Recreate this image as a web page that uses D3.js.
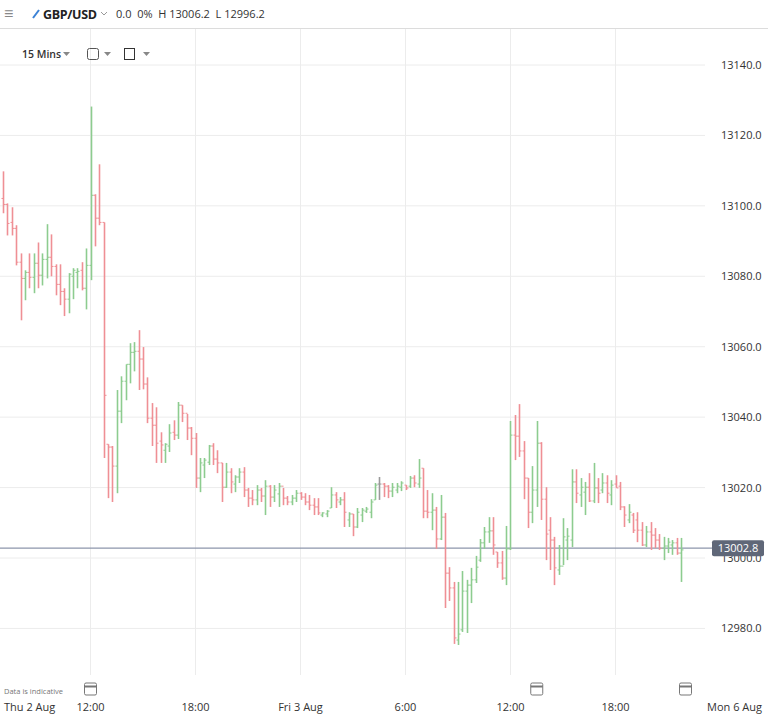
<!DOCTYPE html>
<html><head><meta charset="utf-8">
<script src="https://cdn.jsdelivr.net/npm/d3@7"></script>
<style>body{margin:0;background:#fff;font-family:"Open Sans","Noto Sans",sans-serif}</style>
</head><body><svg id="c" width="768" height="715"></svg>
<script>
const opens=[13102.1,13100.4,13095.3,13093.6,13084.0,13079.4,13081.1,13079.7,13083.7,13080.3,13084.8,13085.4,13082.8,13077.7,13075.7,13073.5,13080.0,13081.1,13081.7,13076.6,
13083.1,13103.0,13096.5,13095.3,13032.3,13031.5,13026.1,13041.7,13050.2,13055.0,13058.4,13058.7,13056.5,13049.4,13039.7,13037.7,13033.2,13030.6,13031.8,13035.7,
13034.9,13043.4,13041.1,13036.9,13034.0,13022.7,13026.4,13027.2,13031.8,13028.1,13027.0,13020.1,13024.4,13021.0,13023.0,13024.4,13019.3,13017.0,13016.5,13019.3,
13017.6,13020.4,13017.3,13018.2,13020.4,13017.0,13015.9,13017.0,13018.4,13017.3,13015.9,13015.0,13014.5,13012.2,13012.5,13014.2,13017.9,13015.9,13016.5,13010.8,
13012.5,13008.8,13012.2,13013.3,13013.0,13016.5,13021.0,13021.0,13020.4,13019.0,13019.3,13020.1,13020.7,13020.4,13022.7,13021.0,13025.5,13013.3,13013.0,13013.6,
13005.4,13011.6,12995.7,12991.5,12976.7,12979.6,12990.6,12992.3,12993.8,12999.4,13004.3,13007.4,13007.7,13001.7,12998.6,12994.3,13002.6,13034.9,13034.6,13030.4,
13022.7,13013.0,13019.3,13032.6,13016.7,13007.9,13005.1,12996.6,12997.7,13005.1,13005.1,13021.6,13017.9,13018.7,13020.1,13016.2,13019.9,13019.3,13021.3,13017.9,
13021.0,13020.4,13014.5,13010.8,13012.2,13010.8,13007.9,13003.7,13007.4,13006.5,13005.1,13002.8,13003.4,13003.7,13004.3,13001.4];
const highs=[13109.8,13100.7,13099.6,13094.5,13086.5,13081.7,13086.5,13086.5,13089.6,13086.5,13094.8,13091.9,13083.4,13083.4,13076.6,13080.9,13082.3,13082.3,13084.0,13087.9,
13128.2,13103.3,13111.8,13095.3,13032.3,13031.8,13047.7,13051.6,13055.0,13061.0,13061.3,13064.7,13059.9,13051.3,13044.0,13042.8,13035.7,13032.6,13038.0,13039.1,
13044.3,13043.4,13040.9,13037.2,13035.5,13028.4,13028.4,13032.1,13032.6,13030.6,13027.0,13027.0,13025.5,13023.5,13025.5,13025.8,13019.9,13019.3,13020.7,13019.9,
13022.1,13020.7,13020.7,13021.3,13019.9,13017.6,13017.9,13019.3,13018.7,13018.4,13017.9,13017.0,13017.0,13013.0,13013.6,13020.1,13018.7,13017.3,13018.7,13013.0,
13012.5,13014.2,13014.2,13014.5,13016.7,13021.3,13023.0,13021.3,13020.7,13021.3,13021.3,13021.8,13020.7,13023.3,13023.5,13028.1,13025.5,13019.3,13018.4,13014.5,
13017.9,13012.8,12997.4,12993.2,12993.2,12996.3,12993.8,12997.2,13000.6,13005.4,13008.8,13011.6,13011.6,13001.7,13002.0,13009.1,13038.9,13040.6,13043.7,13033.2,
13022.7,13026.1,13038.9,13032.9,13020.1,13011.6,13006.0,13003.7,13011.3,13008.5,13025.2,13025.2,13022.7,13021.6,13024.1,13027.0,13022.7,13024.1,13023.5,13022.1,
13023.5,13021.6,13014.7,13015.3,13012.8,13013.0,13010.2,13009.1,13010.2,13008.5,13006.8,13006.0,13005.7,13005.1,13005.7,13005.7];
const lows=[13097.9,13091.6,13091.6,13083.1,13067.5,13073.2,13076.6,13075.2,13076.6,13077.4,13079.4,13080.0,13074.6,13071.8,13068.7,13069.5,13073.5,13076.6,13076.0,13070.6,
13078.9,13088.5,13094.5,13028.4,13017.0,13015.9,13018.4,13038.3,13044.8,13049.6,13053.0,13047.7,13047.9,13038.3,13031.8,13027.0,13027.0,13027.0,13030.1,13033.5,
13033.8,13038.6,13033.5,13029.2,13019.9,13018.7,13022.7,13026.4,13026.4,13024.1,13015.9,13019.9,13018.4,13018.7,13021.3,13017.3,13014.5,13015.0,13015.0,13015.9,
13012.2,13014.5,13015.9,13014.5,13015.0,13015.0,13015.0,13015.9,13016.5,13015.0,13013.6,13012.2,13012.2,13011.6,13011.6,13014.2,13014.2,13015.0,13008.8,13008.8,
13006.2,13008.5,13010.2,13012.8,13011.3,13016.5,13016.5,13017.3,13017.0,13017.3,13018.4,13019.0,13019.3,13019.9,13020.1,13019.9,13011.3,13011.3,13007.9,13002.6,
13005.1,12985.8,12987.8,12975.6,12975.3,12979.0,12978.7,12987.2,12992.9,12998.9,13002.6,13004.3,13000.9,12997.2,12993.8,12992.3,13002.3,13027.8,13028.7,13016.7,
13008.5,13009.9,13014.5,13010.8,12999.4,12996.6,12992.3,12995.2,12998.0,12999.4,13003.1,13015.6,13014.5,13012.2,13015.9,13015.6,13015.6,13018.4,13015.6,13015.0,
13019.9,13013.6,13008.8,13009.9,13007.1,13004.5,13003.4,13003.1,13002.3,13002.8,13002.3,12999.4,13001.4,13000.9,13000.9,12993.2];
const closes=[13100.4,13095.0,13093.6,13084.0,13079.4,13081.1,13079.7,13083.7,13080.3,13084.8,13085.4,13082.8,13077.7,13075.7,13073.5,13080.6,13081.7,13081.4,13076.6,13083.1,
13103.0,13096.5,13095.3,13046.2,13031.5,13026.1,13041.7,13050.2,13055.0,13058.4,13058.7,13056.5,13049.4,13039.7,13037.7,13032.6,13032.1,13032.3,13035.5,13034.9,
13043.4,13041.1,13036.9,13034.0,13022.7,13027.0,13027.8,13031.8,13028.1,13027.0,13020.1,13024.4,13021.6,13023.0,13024.4,13019.3,13017.0,13016.5,13019.3,13017.6,
13020.4,13017.3,13019.3,13020.4,13017.0,13015.9,13017.0,13018.4,13017.3,13015.9,13015.0,13014.5,13012.8,13012.8,13013.3,13017.9,13016.5,13016.5,13013.0,13012.5,
13008.8,13013.0,13013.6,13013.9,13015.9,13020.7,13021.0,13020.4,13019.0,13020.1,13020.4,13021.3,13019.9,13022.7,13021.3,13022.7,13013.3,13013.0,13013.6,13005.4,
13011.6,12995.7,12991.5,12977.3,12978.4,12990.6,12992.3,12993.8,12997.4,13004.3,13007.4,13007.7,13003.7,12998.6,12994.3,13002.6,13034.9,13034.6,13030.4,13022.7,
13013.0,13019.3,13032.6,13016.7,13006.8,13005.1,12997.2,12997.7,13006.0,13006.2,13021.6,13018.4,13020.1,13020.1,13016.2,13019.9,13018.4,13021.3,13018.4,13020.7,
13019.9,13014.5,13012.2,13013.0,13007.9,13007.9,13003.7,13007.4,13006.5,13005.1,13002.8,13003.4,13004.5,13004.3,13001.4,13002.3];
const xTicks=[{i:20,t:"12:00"},{i:44,t:"18:00"},{i:68,t:"Fri 3 Aug"},{i:92,t:"6:00"},{i:116,t:"12:00"},{i:140,t:"18:00"},{i:164,t:"Mon 6 Aug"}];
const yTicks=[12980,13000,13020,13040,13060,13080,13100,13120,13140];
const lastPrice=13002.8;

const svg=d3.select("#c");
const x=d3.scaleLinear().domain([0,164]).range([3,720.5]);
const y=d3.scaleLinear().domain([13000,13140]).range([558,65]);
const grid="#ececec";
svg.append("line").attr("x1",0).attr("x2",768).attr("y1",28.5).attr("y2",28.5).attr("stroke","#dcdcdc");
const g=svg.append("g");
g.selectAll(".vg").data(xTicks.filter(d=>d.i<160)).join("line").attr("x1",d=>x(d.i)).attr("x2",d=>x(d.i)).attr("y1",29).attr("y2",675).attr("stroke",grid);
g.selectAll(".hg").data(yTicks).join("line").attr("x1",0).attr("x2",705).attr("y1",d=>y(d)).attr("y2",d=>y(d)).attr("stroke",grid);
svg.selectAll(".yl").data(yTicks).join("text").attr("x",721).attr("y",d=>y(d)+4).attr("font-size",11).attr("fill","#333").text(d=>d.toFixed(1));
svg.selectAll(".xl").data(xTicks).join("text").attr("x",d=>d.i===164?x(d.i)+14:x(d.i)).attr("y",711)
 .attr("text-anchor","middle").attr("font-size",11).attr("fill","#333").text(d=>d.t);
svg.append("text").attr("x",4).attr("y",711).attr("font-size",11).attr("fill","#333").text("Thu 2 Aug");
svg.append("line").attr("x1",0).attr("x2",712).attr("y1",y(lastPrice)).attr("y2",y(lastPrice)).attr("stroke","#8d96ab").attr("stroke-width",1.2);
const data=opens.map((o,i)=>({i,o,h:highs[i],l:lows[i],c:closes[i]}));
const col=d=>d.c>d.o?"#8dcc8f":d.c<d.o?"#ef8f95":"#999";
const bg=svg.append("g");
data.forEach(d=>{
 const cx=Math.round(x(d.i))+0.5;
 bg.append("line").attr("x1",cx).attr("x2",cx).attr("y1",y(d.h)).attr("y2",y(d.l)).attr("stroke",col(d)).attr("stroke-width",1.6);
 bg.append("line").attr("x1",cx-2).attr("x2",cx).attr("y1",y(d.o)).attr("y2",y(d.o)).attr("stroke",col(d)).attr("stroke-width",1);
 bg.append("line").attr("x1",cx).attr("x2",cx+2).attr("y1",y(d.c)).attr("y2",y(d.c)).attr("stroke",col(d)).attr("stroke-width",1);
});
svg.append("rect").attr("x",712).attr("y",y(lastPrice)-8).attr("width",52).attr("height",16).attr("rx",2).attr("fill","#5f6778");
svg.append("text").attr("x",738).attr("y",y(lastPrice)+4).attr("text-anchor","middle").attr("font-size",11).attr("fill","#fff").text(lastPrice.toFixed(1));
svg.append("text").attr("x",4).attr("y",19).attr("font-size",16).attr("fill","#888").text("≡");
svg.append("line").attr("x1",33).attr("x2",39).attr("y1",18).attr("y2",10).attr("stroke","#3b82d6").attr("stroke-width",2);
svg.append("text").attr("x",43).attr("y",19).attr("font-size",12.5).attr("font-weight","bold").attr("fill","#222").attr("textLength",54).text("GBP/USD");
svg.append("path").attr("d","M101 12 l3 3 l3 -3").attr("fill","none").attr("stroke","#999");
svg.append("text").attr("x",116).attr("y",18).attr("font-size",11).attr("fill","#333").style("white-space","pre").text("0.0  0%  H 13006.2  L 12996.2");
svg.append("text").attr("x",22).attr("y",58).attr("font-size",10.5).attr("font-weight","600").attr("fill","#333").text("15 Mins");
svg.append("path").attr("d","M63 52 h7 l-3.5 4z").attr("fill","#888");
svg.append("rect").attr("x",87.5).attr("y",48.5).attr("width",11).attr("height",11).attr("rx",2).attr("fill","none").attr("stroke","#555");
svg.append("path").attr("d","M104 52 h7 l-3.5 4z").attr("fill","#888");
svg.append("rect").attr("x",124.5).attr("y",48.5).attr("width",10).attr("height",11).attr("fill","none").attr("stroke","#333");
svg.append("path").attr("d","M143 52 h7 l-3.5 4z").attr("fill","#888");
svg.append("text").attr("x",4).attr("y",694).attr("font-size",7.5).attr("fill","#777").text("Data is indicative");
[20,122,156].forEach(i=>{const cx=x(i);
 svg.append("rect").attr("x",cx-6).attr("y",683).attr("width",12).attr("height",12).attr("rx",1.5).attr("fill","#fff").attr("stroke","#777");
 svg.append("line").attr("x1",cx-6).attr("x2",cx+6).attr("y1",686.5).attr("y2",686.5).attr("stroke","#777").attr("stroke-width",2);});
</script></body></html>
